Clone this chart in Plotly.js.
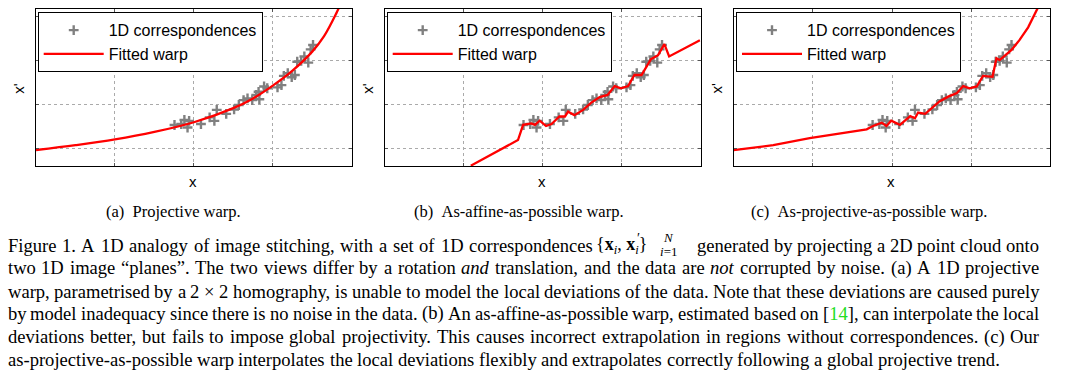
<!DOCTYPE html>
<html><head><meta charset="utf-8">
<script src="https://cdn.plot.ly/plotly-3.0.1.min.js"></script>
<style>html,body{margin:0;padding:0;background:#fff}</style>
</head><body><div id="chart" style="width:1065px;height:380px"></div>
<script>
// 1D correspondences (same in all three panels)
const corrX = [1.755,1.84,1.88,1.94,1.92,2.09,2.20,2.26,2.29,2.41,2.51,2.57,2.63,2.68,2.74,2.79,2.82,2.83,2.89,2.93,3.06,3.11,3.14,3.19,3.24,3.28,3.31,3.36,3.40,3.45,3.48,3.51];
const corrY = [1.537,1.56,1.65,1.63,1.48,1.56,1.71,1.63,1.88,1.79,1.89,1.99,2.10,2.14,2.10,2.22,2.29,2.12,2.41,2.37,2.39,2.44,2.65,2.71,2.62,2.67,2.97,2.99,3.09,2.95,3.25,3.35];
// (a) projective warp
const projX = [0,0.5,1.0,1.5,2.0,2.5,2.75,3.0,3.25,3.5,3.65,3.8,3.9];
const projY = [0.97,1.08,1.21,1.38,1.60,1.92,2.14,2.43,2.77,3.2,3.55,4.05,4.45];
// (b) as-affine-as-possible warp
const aapX = [1.087,1.685,1.75,1.855,1.90,1.96,2.04,2.11,2.21,2.28,2.32,2.40,2.51,2.61,2.72,2.82,2.91,2.99,3.08,3.16,3.25,3.37,3.46,3.54,3.60,3.99];
const aapY = [0.615,1.197,1.54,1.575,1.54,1.635,1.515,1.56,1.73,1.73,1.84,1.76,1.88,2.04,2.17,2.22,2.42,2.37,2.42,2.67,2.67,3.03,3.12,3.37,3.09,3.46];
// (c) as-projective-as-possible warp
const apapX = [0,0.5,0.96,1.3,1.68,1.76,1.87,1.93,1.99,2.10,2.23,2.29,2.33,2.42,2.60,2.71,2.82,2.90,2.98,3.07,3.15,3.27,3.32,3.36,3.51,3.61,3.72,3.85];
const apapY = [0.97,1.08,1.24,1.33,1.44,1.515,1.59,1.515,1.635,1.54,1.74,1.69,1.82,1.79,2.07,2.18,2.26,2.42,2.37,2.41,2.65,2.63,3.05,3.01,3.24,3.46,3.75,4.22];
const gridX = [1,2,3];
const gridY = [1,2,3,4];
const subCaptions = ["(a)&#8194;Projective warp.", "(b)&#8194;As-affine-as-possible warp.", "(c)&#8194;As-projective-as-possible warp."];
// caption lines; line 1 is split around the inline math
const captionLine1a = "Figure 1. A 1D analogy of image stitching, with a set of 1D correspondences";
const captionLine1b = "generated by projecting a 2D point cloud onto";
const captionLines = [
  "two 1D image “planes”. The two views differ by a rotation <i>and</i> translation, and the data are <i>not</i> corrupted by noise. (a) A 1D projective",
  "warp, parametrised by a 2&#160;×&#160;2 homography, is unable to model the local deviations of the data. Note that these deviations are caused purely",
  "by model inadequacy since there is no noise in the data. (b) An as-affine-as-possible warp, estimated based on [{G}14{/G}], can interpolate the local",
  "deviations better, but fails to impose global projectivity. This causes incorrect extrapolation in regions without correspondences. (c) Our"
];
const captionLast = "as-projective-as-possible warp interpolates the local deviations flexibly and extrapolates correctly following a global projective trend.";

const W = 1065, H = 380;
const px = v => v / W, py = v => 1 - v / H;
const sans = "Liberation Sans, Arial, sans-serif";
const serifName = "Liberation Serif";
const serif = "Liberation Serif, Times New Roman, serif";

const warps = [[projX, projY, 'spline'], [aapX, aapY, 'linear'], [apapX, apapY, 'linear']];
const xDom = [[36, 351.7], [385, 700.7], [733.7, 1050.3]];
const legX = [37.7, 386.7, 736];
const traces = [];
const layout = {
  width: W, height: H, margin: {l: 0, r: 0, t: 0, b: 0},
  paper_bgcolor: '#fff', plot_bgcolor: '#fff', showlegend: true,
  annotations: [], font: {family: sans, color: '#000'}
};
function ann(text, x, y, opts) {
  layout.annotations.push(Object.assign({text: text, x: px(x), y: py(y), xref: 'paper', yref: 'paper',
    xanchor: 'center', yanchor: 'middle', showarrow: false}, opts));
}
for (let i = 0; i < 3; i++) {
  const s = i === 0 ? '' : String(i + 1);
  const lg = 'legend' + s;
  traces.push({x: corrX, y: corrY, xaxis: 'x' + s, yaxis: 'y' + s, mode: 'markers', type: 'scatter',
    name: '1D correspondences', legend: lg,
    marker: {symbol: 'cross-thin-open', size: 7, color: '#808080', line: {color: '#808080', width: 2.4}}});
  traces.push({x: warps[i][0], y: warps[i][1], xaxis: 'x' + s, yaxis: 'y' + s, mode: 'lines', type: 'scatter',
    name: 'Fitted warp', legend: lg,
    line: {color: '#ff0000', width: 2.3, shape: warps[i][2]}});
  const ax = {showline: true, linecolor: '#000', linewidth: 1, mirror: 'ticks', ticks: 'inside', ticklen: 3,
    tickcolor: '#555', showticklabels: false, showgrid: true, gridcolor: '#aaa', griddash: 'dot', gridwidth: 1,
    zeroline: false, tickmode: 'array', fixedrange: true};
  layout['xaxis' + s] = Object.assign({}, ax, {domain: [px(xDom[i][0]), px(xDom[i][1])], range: [0, 4],
    tickvals: gridX, anchor: 'y' + s});
  layout['yaxis' + s] = Object.assign({}, ax, {domain: [py(166), py(9)], range: [0.608, 4.166],
    tickvals: gridY, anchor: 'x' + s});
  layout[lg] = {x: px(legX[i]), y: py(12.2), xanchor: 'left', yanchor: 'top', xref: 'paper', yref: 'paper',
    bgcolor: '#fff', bordercolor: '#000', borderwidth: 1, itemwidth: 60,
    font: {family: sans, size: 16, color: '#000'}};
  const cx = (xDom[i][0] + xDom[i][1]) / 2;
  ann('x', cx - 1, 181.7, {font: {family: sans, size: 15}});
  ann("x'", xDom[i][0] - 17.5, 88.3, {textangle: -90, font: {family: sans, size: 15}});
}
const subCx = [173.3, 519, 869];
subCaptions.forEach((t, i) => ann(t, subCx[i], 211.7, {font: {family: serif, size: 16.5, color: '#000'}}));

// ---- justified caption: each word placed so the line fills the column, like the reference ----
const ctx = document.createElement('canvas').getContext('2d');
const decode = h => h.replace(/&#160;/g, '\u00a0');
function plainOf(w) { return decode(w.replace(/\{\/?G\}/g, '').replace(/<[^>]+>/g, '')); }
function htmlOf(w) { return w.replace('{G}', "<span style='color:#22dd22'>").replace('{/G}', '</span>'); }
function measure(w, size) {
  ctx.font = (w.startsWith('<i>') ? 'italic ' : '') + size + 'px "' + serifName + '"';
  return ctx.measureText(plainOf(w)).width;
}
ctx.font = '100px "' + serifName + '"';
const capSize = Math.min(19, Math.max(16, 100 * 992.7 / ctx.measureText(captionLast).width));
function placeLine(str, x0, x1, y, justify) {
  const words = str.split(' ');
  const widths = words.map(w => measure(w, capSize));
  const total = widths.reduce((a, b) => a + b, 0);
  ctx.font = capSize + 'px "' + serifName + '"';
  const sp = ctx.measureText(' ').width;
  const gap = justify && words.length > 1 ? (x1 - x0 - total) / (words.length - 1) : sp;
  let x = x0;
  words.forEach((w, k) => {
    ann(htmlOf(w), x, y, {xanchor: 'left', borderpad: 0, font: {family: serif, size: capSize, color: '#000'}});
    x += widths[k] + gap;
  });
}
const lineY = [245, 267.7, 291, 313.3, 336.7, 359];
placeLine(captionLine1a, 6.5, 591.7, lineY[0], true);
placeLine(captionLine1b, 695.7, 1038.3, lineY[0], true);
captionLines.forEach((l, i) => placeLine(l, 6.5, 1038.3, lineY[i + 1], true));
placeLine(captionLast, 6.5, 1038.3, lineY[5], false);
// inline math in line 1
ann("{<b>x</b><sub><i>i</i></sub>, <b>x</b><sub><i>i</i></sub>}", 594, 245, {xanchor: 'left', font: {family: serif, size: 18, color: '#000'}});
ann("′", 635, 239, {xanchor: 'left', font: {family: serif, size: 14, color: '#000'}});
ann("<i>N</i>", 661, 237, {xanchor: 'left', font: {family: serif, size: 13, color: '#000'}});
ann("<i>i</i>=1", 658, 251, {xanchor: 'left', font: {family: serif, size: 13, color: '#000'}});

Plotly.newPlot('chart', traces, layout, {staticPlot: true, displayModeBar: false});
</script></body></html>
